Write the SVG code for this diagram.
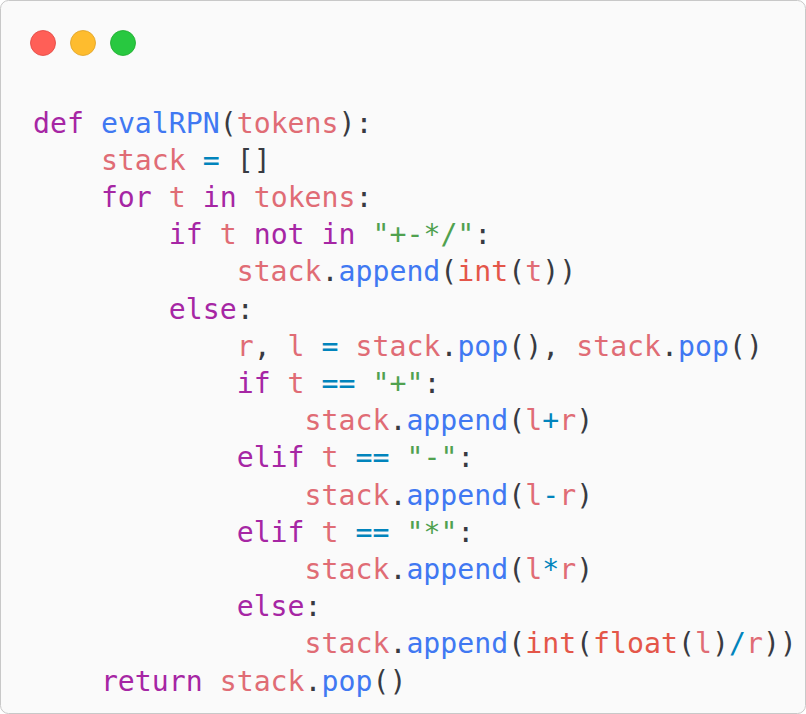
<svg xmlns="http://www.w3.org/2000/svg" width="806" height="714" viewBox="0 0 806 714">
<style>
text{font-family:"DejaVu Sans Mono",monospace;font-size:28.2px;fill:#383a42;white-space:pre}
.k{fill:#a626a4}.f{fill:#4078f2}.v{fill:#e06c75}.b{fill:#e45649}.s{fill:#50a14f}.o{fill:#0184bc}
</style>
<rect x="0.5" y="0.5" width="805" height="713" rx="8" fill="#fafafa" stroke="#c8c8c8"/>
<g id="buttons">
<circle cx="43" cy="43" r="12.5" fill="#ff5f57" stroke="#e0443e" stroke-width="0.8"/>
<circle cx="83" cy="43" r="12.5" fill="#febc2e" stroke="#dea123" stroke-width="0.8"/>
<circle cx="123" cy="43" r="12.5" fill="#28c840" stroke="#1aab29" stroke-width="0.8"/>
</g>
<g id="code" xml:space="preserve">
<text x="33" y="133"><tspan class="k">def</tspan> <tspan class="f">evalRPN</tspan>(<tspan class="v">tokens</tspan>):</text>
<text x="33" y="170">    <tspan class="v">stack</tspan> <tspan class="o">=</tspan> []</text>
<text x="33" y="207">    <tspan class="k">for</tspan> <tspan class="v">t</tspan> <tspan class="k">in</tspan> <tspan class="v">tokens</tspan>:</text>
<text x="33" y="244">        <tspan class="k">if</tspan> <tspan class="v">t</tspan> <tspan class="k">not</tspan> <tspan class="k">in</tspan> <tspan class="s">"+-*/"</tspan>:</text>
<text x="33" y="281">            <tspan class="v">stack</tspan>.<tspan class="f">append</tspan>(<tspan class="b">int</tspan>(<tspan class="v">t</tspan>))</text>
<text x="33" y="319">        <tspan class="k">else</tspan>:</text>
<text x="33" y="356">            <tspan class="v">r</tspan>, <tspan class="v">l</tspan> <tspan class="o">=</tspan> <tspan class="v">stack</tspan>.<tspan class="f">pop</tspan>(), <tspan class="v">stack</tspan>.<tspan class="f">pop</tspan>()</text>
<text x="33" y="393">            <tspan class="k">if</tspan> <tspan class="v">t</tspan> <tspan class="o">==</tspan> <tspan class="s">"+"</tspan>:</text>
<text x="33" y="430">                <tspan class="v">stack</tspan>.<tspan class="f">append</tspan>(<tspan class="v">l</tspan><tspan class="o">+</tspan><tspan class="v">r</tspan>)</text>
<text x="33" y="467">            <tspan class="k">elif</tspan> <tspan class="v">t</tspan> <tspan class="o">==</tspan> <tspan class="s">"-"</tspan>:</text>
<text x="33" y="505">                <tspan class="v">stack</tspan>.<tspan class="f">append</tspan>(<tspan class="v">l</tspan><tspan class="o">-</tspan><tspan class="v">r</tspan>)</text>
<text x="33" y="542">            <tspan class="k">elif</tspan> <tspan class="v">t</tspan> <tspan class="o">==</tspan> <tspan class="s">"*"</tspan>:</text>
<text x="33" y="579">                <tspan class="v">stack</tspan>.<tspan class="f">append</tspan>(<tspan class="v">l</tspan><tspan class="o">*</tspan><tspan class="v">r</tspan>)</text>
<text x="33" y="616">            <tspan class="k">else</tspan>:</text>
<text x="33" y="653">                <tspan class="v">stack</tspan>.<tspan class="f">append</tspan>(<tspan class="b">int</tspan>(<tspan class="b">float</tspan>(<tspan class="v">l</tspan>)<tspan class="o">/</tspan><tspan class="v">r</tspan>))</text>
<text x="33" y="691">    <tspan class="k">return</tspan> <tspan class="v">stack</tspan>.<tspan class="f">pop</tspan>()</text>
</g>
</svg>
